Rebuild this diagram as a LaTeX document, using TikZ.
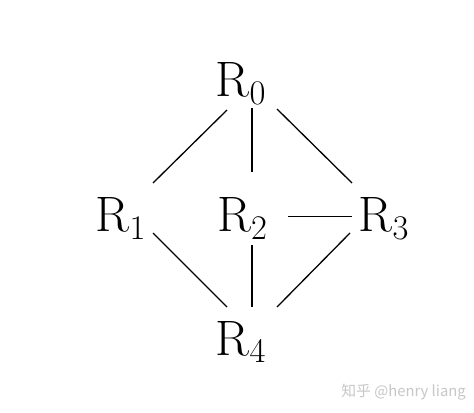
\documentclass[tikz,border=0pt]{standalone}
\usepackage{fontspec}
\newfontfamily\cjk{Noto Sans CJK SC}
\DeclareMathSizes{24.88}{24.88}{17.28}{12}
\usetikzlibrary{positioning}

\begin{document}
\begin{tikzpicture}[x=0.5pt, y=-0.5pt]
    % Style for the register labels and the links
    \tikzstyle{reg}=[inner sep=0pt, anchor=base west, font=\Huge]
    \tikzstyle{link}=[line width=0.65pt]

    \fill[white] (0,0) rectangle (474,412);
    \useasboundingbox (0,0) rectangle (474,412);

    % Draw the register nodes
    \node[reg] (R0) at (215.5,96.7) {$\mathrm{R}_0$};
    \node[reg] (R1) at (95.5,231.7) {$\mathrm{R}_1$};
    \node[reg] (R2) at (217,231.7) {$\mathrm{R}_2$};
    \node[reg] (R3) at (358.5,231.7) {$\mathrm{R}_3$};
    \node[reg] (R4) at (215.5,355) {$\mathrm{R}_4$};

    % Draw the links between the registers
    \draw[link] ([shift={(11.5,13.3)}]R0.base west) -- ([shift={(57.5,-48.7)}]R1.base west);
    \draw[link] ([shift={(36.5,11.3)}]R0.base west) -- ([shift={(35,-59.7)}]R2.base west);
    \draw[link] ([shift={(61.5,12.3)}]R0.base west) -- ([shift={(-6.5,-48.7)}]R3.base west);
    \draw[link] ([shift={(71,-15)}]R2.base west) -- ([shift={(-6.5,-15)}]R3.base west);
    \draw[link] ([shift={(57.5,1.3)}]R1.base west) -- ([shift={(11.5,-48)}]R4.base west);
    \draw[link] ([shift={(35,13.3)}]R2.base west) -- ([shift={(36.5,-48)}]R4.base west);
    \draw[link] ([shift={(-8.5,1.3)}]R3.base west) -- ([shift={(61.5,-48)}]R4.base west);

    % Watermark
    \node[anchor=base west, inner sep=0pt, text=black!22, font=\cjk\fontsize{7.4}{9}\selectfont] (mark) at (341,396.7) {知乎 @henry liang};
\end{tikzpicture}
\end{document}
